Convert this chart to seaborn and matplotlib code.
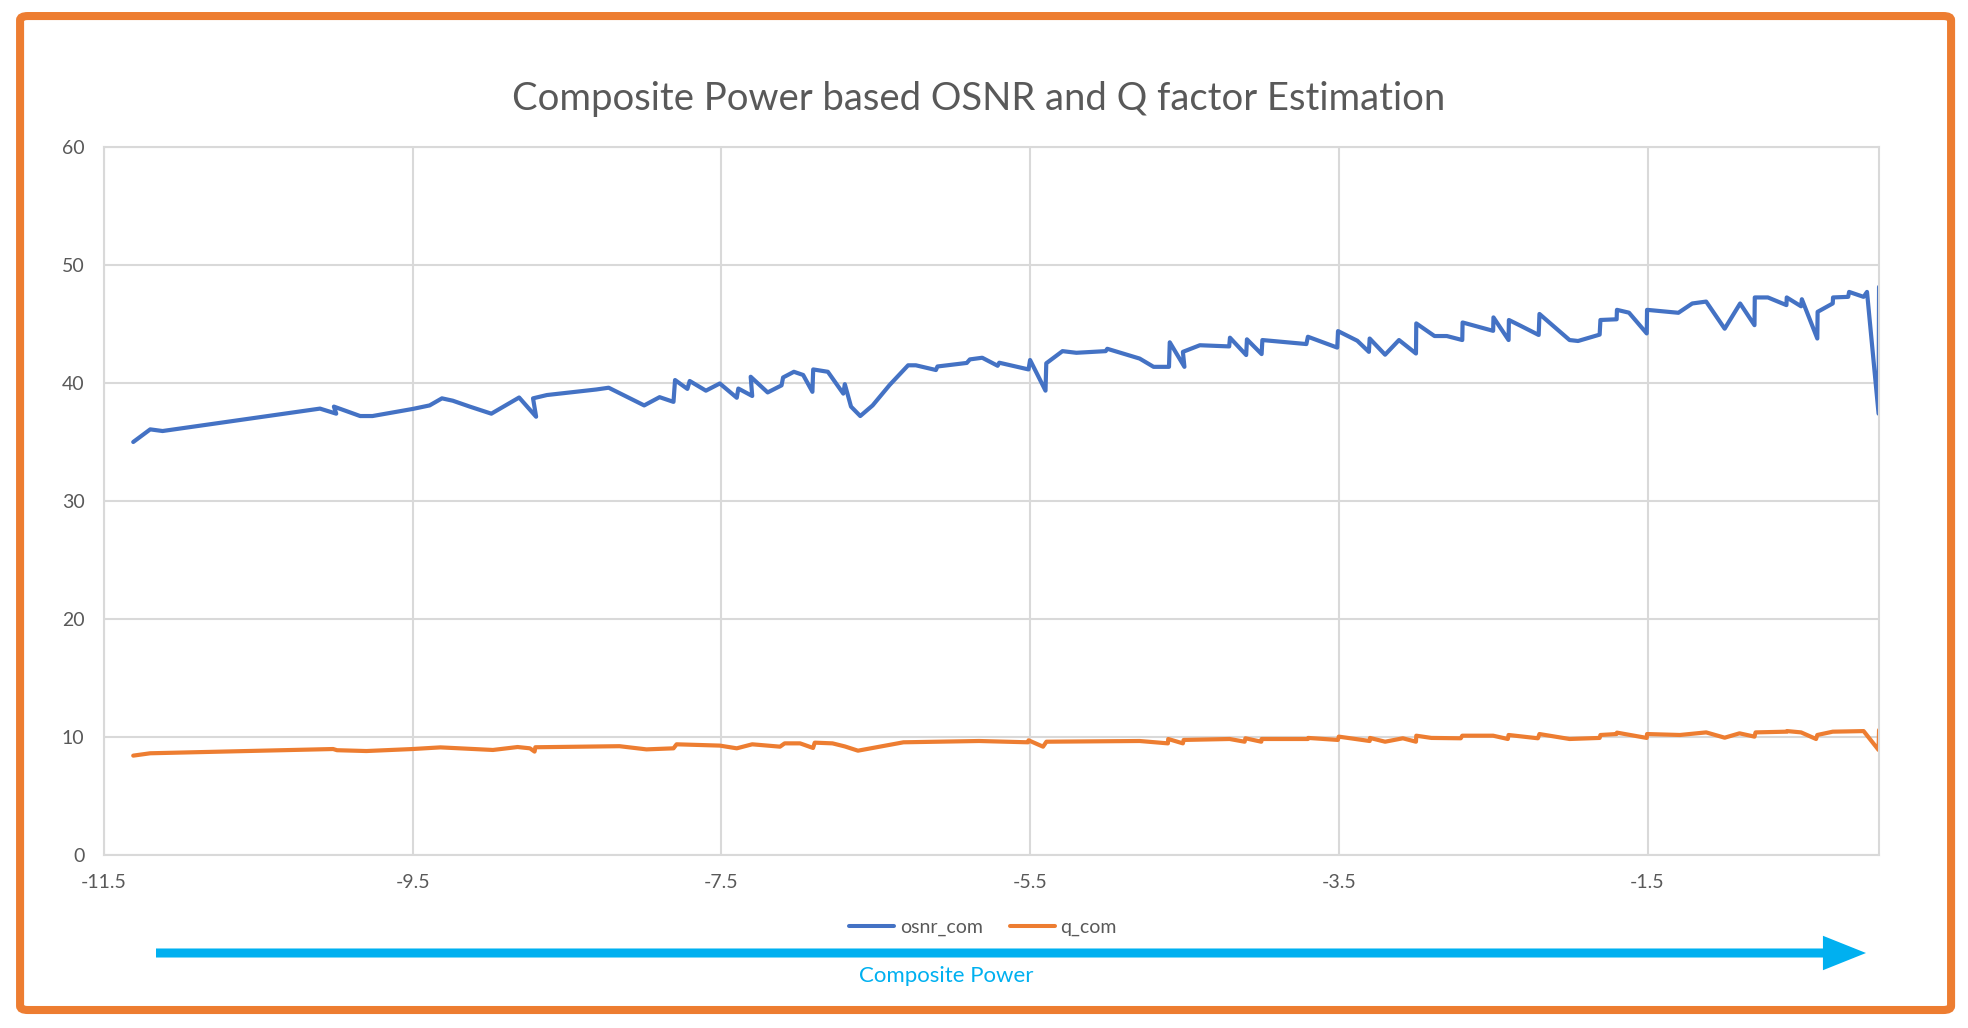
import matplotlib
matplotlib.use("Agg")
import matplotlib.pyplot as plt
from matplotlib.lines import Line2D
from matplotlib.patches import FancyBboxPatch
import seaborn as sns
import numpy as np
import pandas as pd

# composite power (x) and estimated values
osnr_power = [-11.31, -11.20, -11.12, -10.10, -9.995, -10.01, -9.84, -9.76, -9.50, -9.39,
              -9.31, -9.24, -9.13, -8.99, -8.81, -8.70, -8.72, -8.63, -8.31, -8.23,
              -8.00, -7.90, -7.81, -7.80, -7.72, -7.705, -7.60, -7.51, -7.40, -7.39,
              -7.30, -7.31, -7.20, -7.11, -7.10, -7.03, -6.97, -6.91, -6.905, -6.81,
              -6.71, -6.70, -6.66, -6.60, -6.52, -6.41, -6.29, -6.24, -6.11, -6.10,
              -5.91, -5.89, -5.81, -5.71, -5.70, -5.51, -5.50, -5.40, -5.395, -5.29,
              -5.20, -5.01, -5.00, -4.79, -4.70, -4.60, -4.595, -4.50, -4.51, -4.40,
              -4.21, -4.205, -4.10, -4.095, -4.00, -3.995, -3.71, -3.70, -3.51, -3.505,
              -3.38, -3.305, -3.30, -3.20, -3.11, -3.00, -2.998, -2.88, -2.80, -2.70,
              -2.698, -2.50, -2.498, -2.40, -2.398, -2.33, -2.205, -2.20, -2.005, -1.95,
              -1.81, -1.805, -1.70, -1.698, -1.62, -1.505, -1.503, -1.30, -1.21, -1.12,
              -1.00, -0.90, -0.807, -0.805, -0.72, -0.60, -0.598, -0.505, -0.50, -0.40,
              -0.398, -0.30, -0.298, -0.20, -0.194, -0.10, -0.078, -0.003, 0.0]
osnr_com = [35.0, 36.07, 35.93, 37.83, 37.4, 38.0, 37.2, 37.2, 37.8, 38.1,
            38.7, 38.5, 38.0, 37.4, 38.77, 37.14, 38.7, 38.98, 39.45, 39.6,
            38.1, 38.8, 38.4, 40.25, 39.5, 40.17, 39.35, 39.96, 38.75, 39.53,
            38.9, 40.53, 39.2, 39.8, 40.47, 40.95, 40.68, 39.25, 41.15, 40.95,
            39.1, 39.9, 38.0, 37.2, 38.1, 39.83, 41.5, 41.5, 41.1, 41.4,
            41.7, 42.0, 42.14, 41.46, 41.72, 41.15, 41.95, 39.35, 41.67, 42.7,
            42.56, 42.7, 42.9, 42.07, 41.37, 41.37, 43.45, 41.37, 42.64, 43.2,
            43.1, 43.84, 42.37, 43.7, 42.45, 43.64, 43.3, 43.92, 43.0, 44.4,
            43.58, 42.64, 43.77, 42.4, 43.64, 42.5, 45.05, 43.98, 43.98, 43.64,
            45.13, 44.42, 45.56, 43.64, 45.34, 44.9, 44.07, 45.85, 43.64, 43.56,
            44.1, 45.34, 45.4, 46.2, 45.96, 44.2, 46.2, 45.95, 46.74, 46.9,
            44.6, 46.74, 44.9, 47.25, 47.25, 46.6, 47.25, 46.5, 47.1, 43.77,
            46.03, 46.74, 47.25, 47.3, 47.72, 47.3, 47.72, 37.4, 48.15]

q_power = [-11.31, -11.20, -10.015, -9.99, -9.80, -9.50, -9.32, -8.98, -8.82, -8.74,
           -8.71, -8.705, -8.16, -7.985, -7.81, -7.79, -7.51, -7.40, -7.30, -7.12,
           -7.09, -6.99, -6.906, -6.895, -6.78, -6.70, -6.615, -6.32, -5.83, -5.513,
           -5.51, -5.416, -5.394, -4.79, -4.607, -4.605, -4.51, -4.505, -4.207, -4.11,
           -4.105, -4.002, -4.0, -3.70, -3.698, -3.506, -3.50, -3.30, -3.298, -3.20,
           -3.085, -3.0, -2.998, -2.90, -2.71, -2.70, -2.50, -2.405, -2.40, -2.21,
           -2.20, -2.005, -1.81, -1.805, -1.70, -1.698, -1.505, -1.503, -1.29, -1.12,
           -1.0, -0.904, -0.807, -0.80, -0.598, -0.595, -0.505, -0.408, -0.40, -0.30,
           -0.10, -0.003, 0.0]
q_com = [8.42, 8.62, 8.98, 8.88, 8.81, 8.98, 9.12, 8.90, 9.15, 9.04,
         8.76, 9.13, 9.22, 8.95, 9.04, 9.38, 9.27, 9.04, 9.38, 9.18,
         9.46, 9.46, 9.07, 9.52, 9.46, 9.2, 8.84, 9.55, 9.66, 9.55,
         9.72, 9.18, 9.6, 9.66, 9.46, 9.83, 9.46, 9.75, 9.83, 9.6,
         9.89, 9.6, 9.83, 9.83, 9.92, 9.75, 10.03, 9.66, 9.92, 9.6,
         9.89, 9.6, 10.11, 9.92, 9.89, 10.11, 10.11, 9.83, 10.17, 9.89,
         10.25, 9.83, 9.92, 10.17, 10.25, 10.37, 9.92, 10.25, 10.17, 10.39,
         9.94, 10.31, 10.03, 10.39, 10.45, 10.5, 10.39, 9.83, 10.17, 10.45,
         10.5, 8.9, 10.59]

x_ticks = [-11.5, -9.5, -7.5, -5.5, -3.5, -1.5]
y_ticks = [0, 10, 20, 30, 40, 50, 60]

blue = "#4472C4"
orange = "#ED7D31"
grey_txt = "#595959"
grid_c = "#D9D9D9"
cyan = "#00B0F0"

sns.set_theme(style="white")
plt.rcParams['font.family'] = ['Lato', 'DejaVu Sans']

osnr_df = pd.DataFrame({"power": osnr_power, "value": osnr_com})
q_df = pd.DataFrame({"power": q_power, "value": q_com})

fig = plt.figure(figsize=(19.68, 10.28), dpi=100)
ax = fig.add_axes([0.0528, 0.1683, 0.902, 0.6887])

sns.lineplot(data=osnr_df, x="power", y="value", sort=False, estimator=None,
             color=blue, lw=3.0, solid_joinstyle="round", solid_capstyle="round", ax=ax)
sns.lineplot(data=q_df, x="power", y="value", sort=False, estimator=None,
             color=orange, lw=3.0, solid_joinstyle="round", solid_capstyle="round", ax=ax)

ax.set_xlim(-11.5, 0)
ax.set_ylim(0, 60)
ax.set_xticks(x_ticks)
ax.set_xticklabels([str(t) for t in x_ticks])
ax.set_yticks(y_ticks)
ax.set_xlabel("")
ax.set_ylabel("")
ax.grid(True, color=grid_c, lw=1.5)
ax.set_axisbelow(True)
for s in ax.spines.values():
    s.set_color(grid_c)
    s.set_linewidth(1.5)
ax.tick_params(axis="both", length=0, labelsize=14, labelcolor=grey_txt)
ax.tick_params(axis="x", pad=14)
ax.tick_params(axis="y", pad=14)

fig.text(0.4975, 0.904, "Composite Power based OSNR and Q factor Estimation",
         ha="center", va="center", fontsize=27.5, color=grey_txt)

handles = [Line2D([], [], color=blue, lw=2.9), Line2D([], [], color=orange, lw=2.9)]
fig.legend(handles, ["osnr_com", "q_com"], loc="center", bbox_to_anchor=(0.4995, 0.0982),
           ncol=2, frameon=False, fontsize=14, handlelength=2.3, handletextpad=0.3,
           columnspacing=1.4, labelcolor=grey_txt)

# blue arrow under the chart
ax.annotate("", xy=(1866, 1028 - 953), xytext=(156, 1028 - 953),
            xycoords="figure pixels", textcoords="figure pixels",
            arrowprops=dict(arrowstyle="-|>,head_length=0.95,head_width=0.38",
                            lw=6.5, color=cyan, shrinkA=0, shrinkB=0, mutation_scale=20,
                            joinstyle="miter", capstyle="butt"))
fig.text(946 / 1968, 1 - 976 / 1028, "Composite Power", ha="center", va="center",
         fontsize=16, color=cyan)

# orange frame round the whole thing
frame = FancyBboxPatch((0.0102, 0.0175), 0.9812, 0.9669,
                       boxstyle="round,pad=0,rounding_size=0.004",
                       transform=fig.transFigure, fill=False, ec=orange, lw=5.8)
fig.patches.append(frame)

fig.savefig("out.png", dpi=100)
